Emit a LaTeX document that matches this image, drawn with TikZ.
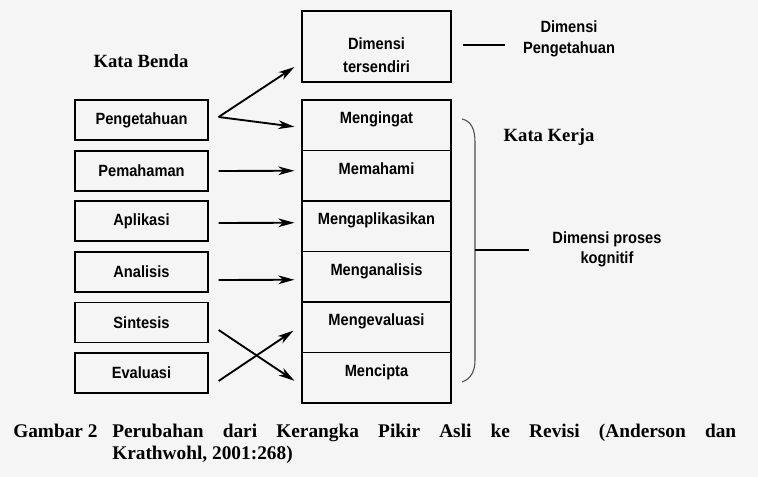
\documentclass[tikz,border=0pt]{standalone}
\usepackage{fontspec}
\setmainfont{Liberation Sans}
\newfontfamily\boxfont{Liberation Sans}[FakeStretch=0.9]
\newfontfamily\serifb{Liberation Serif}
\usetikzlibrary{arrows.meta}
\begin{document}
\begin{tikzpicture}[x=0.75pt,y=-0.75pt,
  boxtxt/.style={font=\boxfont\bfseries\fontsize{12.2}{14}\selectfont},
  box/.style={boxtxt, draw, line width=0.9pt, minimum width=99.75pt, minimum height=30pt, inner sep=0pt},
  cell/.style={boxtxt, draw, line width=0.9pt, minimum width=111.75pt, inner sep=0pt, text height=18pt, text depth=19.875pt},
  arr/.style={line width=1.4pt, -{Stealth[length=12pt,width=6.5pt,inset=3.5pt]}},
  lbl/.style={boxtxt, align=center, inner sep=0pt},
  ttl/.style={font=\serifb\bfseries\fontsize{14}{16}\selectfont, inner sep=0pt},
  captxt/.style={font=\serifb\bfseries\fontsize{14.5}{16}\selectfont, inner sep=0pt, anchor=base west},
  thinline/.style={line width=0.8pt},
]
\fill[black!4] (0,0) rectangle (758,477);
\useasboundingbox (0,0) rectangle (758,477);

% left column
\node[box] (peng) at (141.5,120) {Pengetahuan};
\node[box] (pem)  at (141.5,171) {Pemahaman};
\node[box] (apl)  at (141.5,221) {Aplikasi};
\node[box] (ana)  at (141.5,272) {Analisis};
\node[box] (sin)  at (141.5,322.5) {Sintesis};
\node[box] (eva)  at (141.5,373) {Evaluasi};

% right column
\node[box, minimum width=111.75pt, minimum height=53.25pt] (dim) at (376.5,46.5) {};
\node[lbl, font=\boxfont\bfseries\fontsize{12.2}{17.25}\selectfont] (dimt) at (376.5,55) {Dimensi\\tersendiri};
\node[cell] (c1) at (376.5,125.25) {Mengingat};
\node[cell] (c2) at (376.5,175.75) {Memahami};
\node[cell] (c3) at (376.5,226.25) {Mengaplikasikan};
\node[cell] (c4) at (376.5,276.75) {Menganalisis};
\node[cell] (c5) at (376.5,327.25) {Mengevaluasi};
\node[cell] (c6) at (376.5,377.75) {Mencipta};

% titles
\node[ttl, anchor=base] (kb) at (141,68) {Kata Benda};
\node[ttl, anchor=base] (kk) at (549,142) {Kata Kerja};

% arrows
\coordinate (pv) at ([shift={(10,-3)}]peng.east);
\draw[arr] (pv) -- ([shift={(-7,20.5)}]dim.west);
\draw[arr] (pv) -- ([shift={(-7,1.5)}]c1.west);
\draw[arr] ([shift={(10,0)}]pem.east) -- ([shift={(-7,-5)}]c2.west);
\draw[arr] ([shift={(10,2)}]apl.east) -- ([shift={(-7,-3.5)}]c3.west);
\draw[arr] ([shift={(10,8)}]ana.east) -- ([shift={(-7,3)}]c4.west);
\draw[arr] ([shift={(10,7.5)}]sin.east) -- ([shift={(-7,3)}]c6.west);
\draw[arr] ([shift={(10,8)}]eva.east) -- ([shift={(-8,3.5)}]c5.west);

% dimensi pengetahuan
\node[lbl, font=\boxfont\bfseries\fontsize{12.2}{15.5}\selectfont] (dp) at (569,39) {Dimensi\\Pengetahuan};
\coordinate (dpl) at (505,45);
\draw[thinline] ([shift={(11,-1.5)}]dim.east) -- (dpl);

% brace
\coordinate (bt) at (462,119);
\coordinate (bb) at (462,382);
\coordinate (bm) at (474.5,250);
\draw[line width=0.8pt, black!70] (bt) .. controls (471,121) and (475,129) .. (475,142)
   -- (475,360) .. controls (475,371) and (471,379) .. (bb);
\node[lbl, font=\boxfont\bfseries\fontsize{12.2}{15}\selectfont] (dk) at (607,249.5) {Dimensi proses\\kognitif};
\draw[thinline] (bm) -- (529,250);

% caption
\node[captxt] (g2) at (13,438) {Gambar 2};
\node[captxt] (cl1) at (112,438) {\makebox[468pt][s]{Perubahan dari Kerangka Pikir Asli ke Revisi (Anderson dan}};
\node[captxt] (cl2) at (112,460) {Krathwohl, 2001:268)};
\end{tikzpicture}
\end{document}
